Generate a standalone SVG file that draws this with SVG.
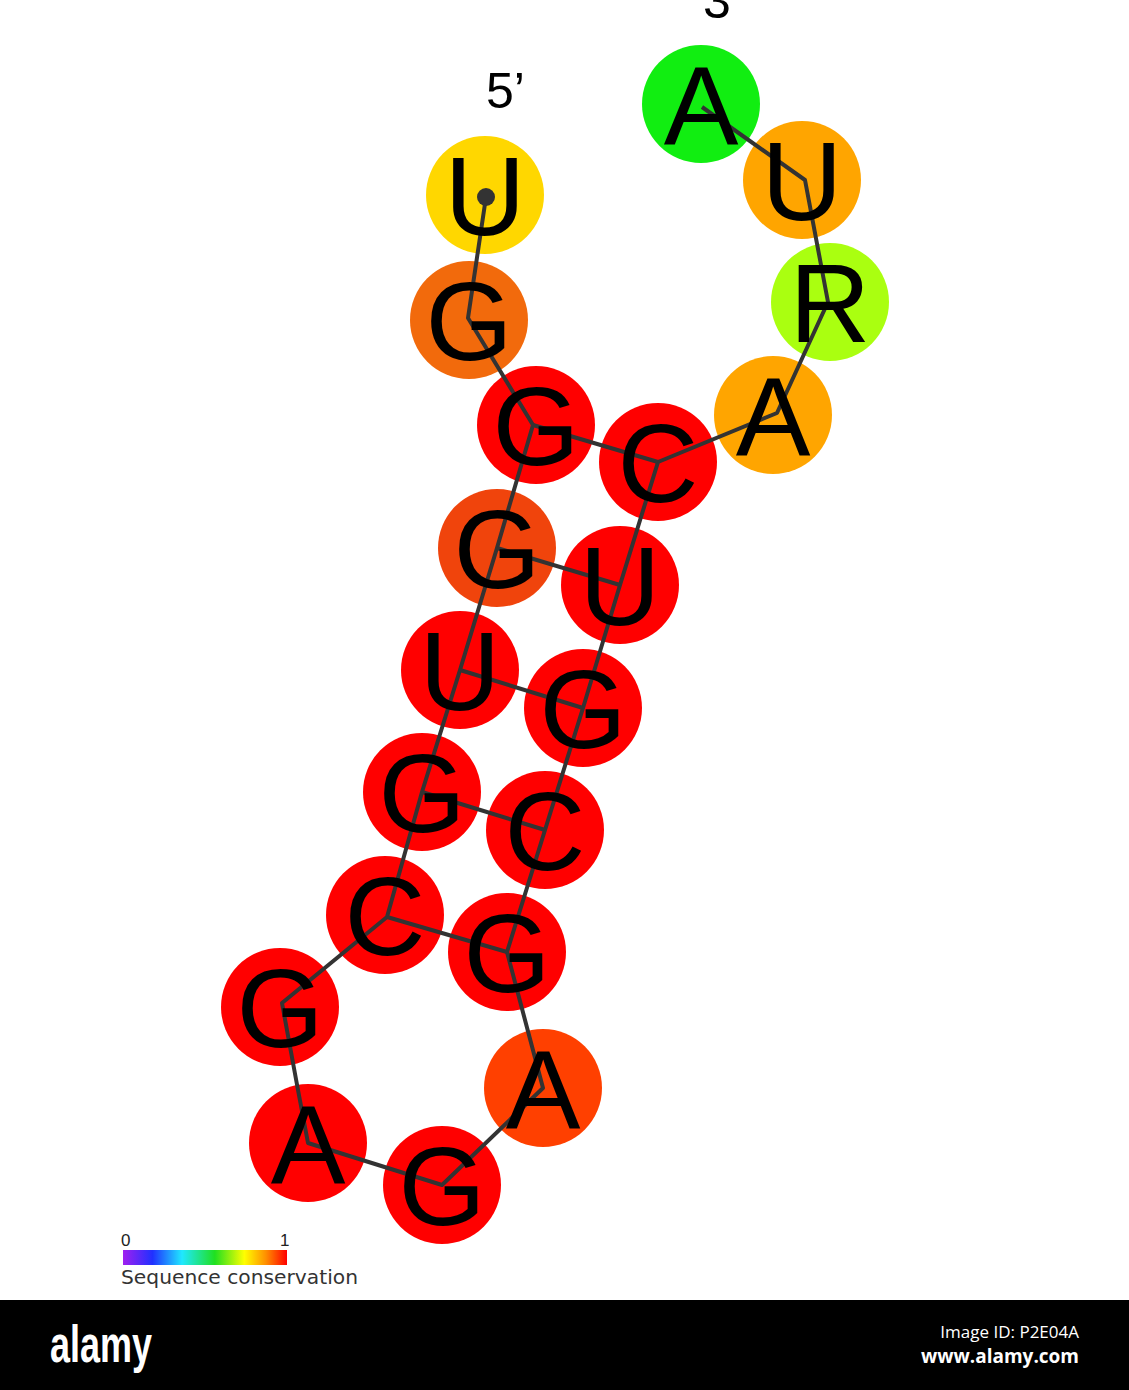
<svg xmlns="http://www.w3.org/2000/svg" width="1129" height="1390" viewBox="0 0 1129 1390">
<style>
.nt{stroke:none}
.lt{font-family:"Liberation Sans",Arial,sans-serif;font-size:112px;fill:#000;text-anchor:middle}
.bb{fill:none;stroke:#333;stroke-width:4;stroke-linejoin:round}
.bp{stroke:#333;stroke-width:4}
.end{font-family:"Liberation Sans",Arial,sans-serif;font-size:50px;fill:#000}
</style>
<defs>
<linearGradient id="cons" x1="0" y1="0" x2="1" y2="0">
<stop offset="0" stop-color="#a020f0"/>
<stop offset="0.18" stop-color="#2030ff"/>
<stop offset="0.36" stop-color="#20e8ff"/>
<stop offset="0.56" stop-color="#20e020"/>
<stop offset="0.74" stop-color="#ffff00"/>
<stop offset="0.87" stop-color="#ff9000"/>
<stop offset="1" stop-color="#ff0000"/>
</linearGradient>
</defs>
<rect width="1129" height="1390" fill="#fff"/>
<g id="circles">
<circle class="nt" cx="485" cy="195" r="59" fill="#ffd700"/>
<circle class="nt" cx="469" cy="320" r="59" fill="#f26a0c"/>
<circle class="nt" cx="536" cy="425" r="59" fill="#ff0000"/>
<circle class="nt" cx="497" cy="548" r="59" fill="#f0440c"/>
<circle class="nt" cx="460" cy="670" r="59" fill="#ff0000"/>
<circle class="nt" cx="422" cy="792" r="59" fill="#ff0000"/>
<circle class="nt" cx="385" cy="915" r="59" fill="#ff0000"/>
<circle class="nt" cx="280" cy="1007" r="59" fill="#ff0000"/>
<circle class="nt" cx="308" cy="1143" r="59" fill="#ff0000"/>
<circle class="nt" cx="442" cy="1185" r="59" fill="#ff0000"/>
<circle class="nt" cx="543" cy="1088" r="59" fill="#ff4000"/>
<circle class="nt" cx="507" cy="952" r="59" fill="#ff0000"/>
<circle class="nt" cx="545" cy="830" r="59" fill="#ff0000"/>
<circle class="nt" cx="583" cy="708" r="59" fill="#ff0000"/>
<circle class="nt" cx="620" cy="585" r="59" fill="#ff0000"/>
<circle class="nt" cx="658" cy="462" r="59" fill="#ff0000"/>
<circle class="nt" cx="773" cy="415" r="59" fill="#ffa500"/>
<circle class="nt" cx="830" cy="302" r="59" fill="#aaff10"/>
<circle class="nt" cx="802" cy="180" r="59" fill="#ffa500"/>
<circle class="nt" cx="701" cy="104" r="59" fill="#11ee11"/>
</g>
<g id="connectors">
<polyline class="bb" points="486,197 468,318 533,425 497,548 460,670 422,792 387,917 282,1003 298,1090 308,1143 442,1185 543,1088 507,952 545,830 583,708 620,585 658,462 777,413 828,302 805,180 702,107"/>
<line class="bp" x1="533" y1="425" x2="658" y2="462"/>
<line class="bp" x1="497" y1="548" x2="620" y2="585"/>
<line class="bp" x1="460" y1="670" x2="583" y2="708"/>
<line class="bp" x1="422" y1="792" x2="545" y2="830"/>
<line class="bp" x1="387" y1="917" x2="507" y2="952"/>
<circle cx="486" cy="197" r="9" fill="#333"/>
</g>
<g id="letters">
<text class="lt" x="485" y="235">U</text>
<text class="lt" x="469" y="360">G</text>
<text class="lt" x="536" y="465">G</text>
<text class="lt" x="497" y="588">G</text>
<text class="lt" x="460" y="710">U</text>
<text class="lt" x="422" y="832">G</text>
<text class="lt" x="385" y="955">C</text>
<text class="lt" x="280" y="1047">G</text>
<text class="lt" x="308" y="1183">A</text>
<text class="lt" x="442" y="1225">G</text>
<text class="lt" x="543" y="1128">A</text>
<text class="lt" x="507" y="992">G</text>
<text class="lt" x="545" y="870">C</text>
<text class="lt" x="583" y="748">G</text>
<text class="lt" x="620" y="625">U</text>
<text class="lt" x="658" y="502">C</text>
<text class="lt" x="773" y="455">A</text>
<text class="lt" x="830" y="342">R</text>
<text class="lt" x="802" y="220">U</text>
<text class="lt" x="701" y="144">A</text>
</g>
<g id="ends">
<text class="end" x="486" y="108">5’</text>
<text class="end" x="703" y="18">3’</text>
</g>
<g id="legend">
<rect x="123" y="1250" width="164" height="15" fill="url(#cons)"/>
<text x="121" y="1246" font-family="Liberation Sans,Arial,sans-serif" font-size="17" fill="#222">0</text>
<text x="280" y="1246" font-family="Liberation Sans,Arial,sans-serif" font-size="17" fill="#222">1</text>
<text x="121" y="1284" font-family="DejaVu Sans,Liberation Sans,sans-serif" font-size="20" fill="#333" textLength="237" lengthAdjust="spacingAndGlyphs">Sequence conservation</text>
</g>
<g id="footer">
<rect x="0" y="1300" width="1129" height="90" fill="#000"/>
<text x="50" y="1362" font-family="Liberation Sans Narrow,Liberation Sans,Arial,sans-serif" font-size="52" font-weight="bold" fill="#fff" textLength="102" lengthAdjust="spacingAndGlyphs">alamy</text>
<text x="1079" y="1338" font-family="Open Sans,Liberation Sans,sans-serif" font-size="17" fill="#fff" text-anchor="end">Image ID: P2E04A</text>
<text x="1079" y="1363" font-family="Open Sans,Liberation Sans,sans-serif" font-size="19" font-weight="bold" fill="#fff" text-anchor="end">www.alamy.com</text>
</g>
</svg>
